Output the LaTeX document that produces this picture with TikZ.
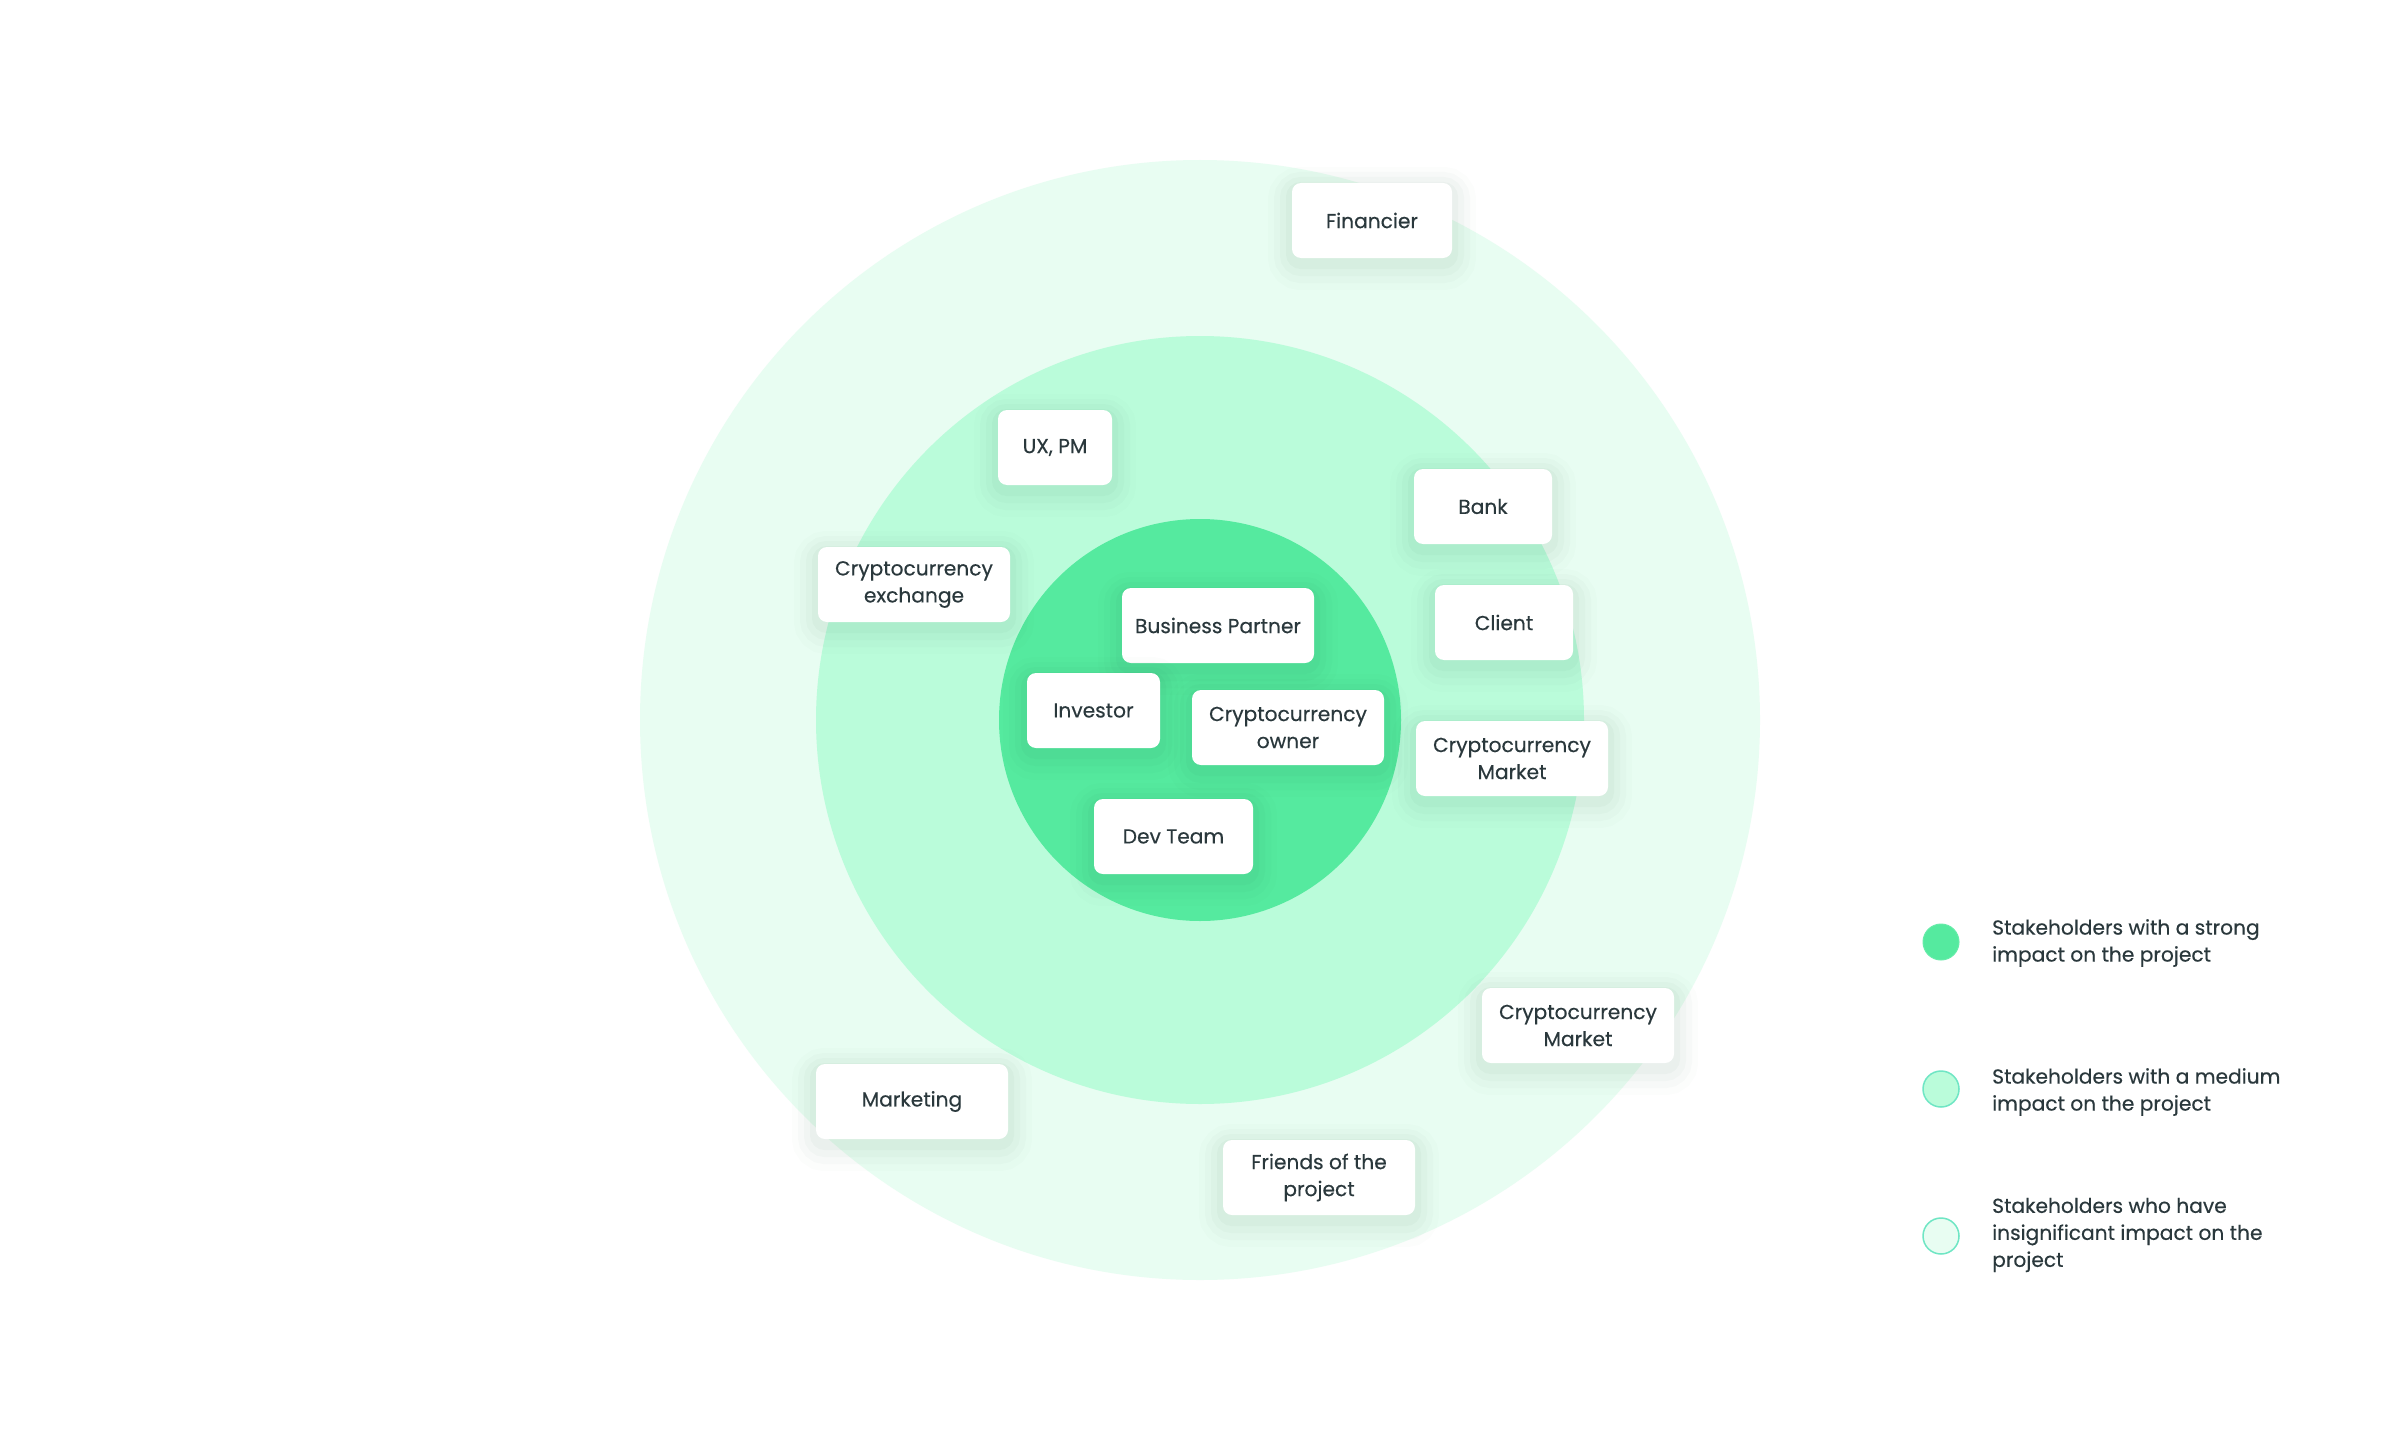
\documentclass[tikz,border=0pt]{standalone}
\usepackage{fontspec}
\setmainfont{Poppins}
\newfontfamily\cardfont{Poppins}[FakeBold=0.35]
\definecolor{outerc}{HTML}{E8FDF2}
\definecolor{midc}{HTML}{BAFCDA}
\definecolor{innerc}{HTML}{55EA9F}
\definecolor{txt}{HTML}{2A383C}
\definecolor{shadowc}{HTML}{1F5A40}
\definecolor{ringb}{HTML}{6FE6C4}
\tikzset{
  card/.style={rectangle, rounded corners=9pt, fill=white, text=txt, align=center,
    font=\cardfont\fontsize{20.2}{27}\selectfont, inner sep=0pt, minimum height=75pt,
    preaction={draw=shadowc, line width=48pt, opacity=0.012, transform canvas={yshift=-8pt}},
    preaction={draw=shadowc, line width=36pt, opacity=0.018, transform canvas={yshift=-7pt}},
    preaction={draw=shadowc, line width=24pt, opacity=0.022, transform canvas={yshift=-6pt}},
    preaction={draw=shadowc, line width=12pt, opacity=0.03, transform canvas={yshift=-5pt}}},
  legtext/.style={anchor=west, align=left, text=txt, font=\cardfont\fontsize{20.2}{27}\selectfont, inner sep=0pt},
  legdot/.style={circle, minimum size=36pt, inner sep=0pt}
}
\begin{document}
\begin{tikzpicture}[x=1pt,y=-1pt]
\useasboundingbox (0,0) rectangle (2401,1442);
\fill[white] (0,0) rectangle (2401,1442);
% rings
\fill[outerc] (1200,720) circle (560);
\fill[midc] (1200,720) circle (384);
\fill[innerc] (1200,720) circle (201);
% cards
\node[card, minimum width=160pt] (fin) at (1372,220.5) {Financier};
\node[card, minimum width=114pt] (ux) at (1055,447.5) {UX, PM};
\node[card, minimum width=138pt] (bank) at (1483,506.5) {Bank};
\node[card, minimum width=138pt] (client) at (1504,622.5) {Client};
\node[card, minimum width=192pt] (cex) at (914,584.5) {Cryptocurrency\\exchange};
\node[card, minimum width=192pt] (bp) at (1218,625.5) {Business Partner};
\node[card, minimum width=133pt] (inv) at (1093.5,710.5) {Investor};
\node[card, minimum width=192pt] (cown) at (1288,727.5) {Cryptocurrency\\owner};
\node[card, minimum width=159pt] (dev) at (1173.5,836.5) {Dev Team};
\node[card, minimum width=192pt] (cm1) at (1512,758.5) {Cryptocurrency\\Market};
\node[card, minimum width=192pt] (cm2) at (1578,1025.5) {Cryptocurrency\\Market};
\node[card, minimum width=192pt] (mkt) at (912,1101.5) {Marketing};
\node[card, minimum width=192pt] (fri) at (1319,1177.5) {Friends of the\\project};
% legend
\node[legdot, fill=innerc, draw=innerc!90!white, line width=1pt] (l1) at (1941,942) {};
\node[legdot, fill=midc, draw=ringb, line width=1.5pt] (l2) at (1941,1089) {};
\node[legdot, fill=outerc, draw=ringb, line width=1.5pt] (l3) at (1941,1236) {};
\node[legtext] (t1) at (1992,943) {Stakeholders with a strong\\impact on the project};
\node[legtext] (t2) at (1992,1092) {Stakeholders with a medium\\impact on the project};
\node[legtext] (t3) at (1992,1235) {Stakeholders who have\\insignificant impact on the\\project};
\end{tikzpicture}
\end{document}
